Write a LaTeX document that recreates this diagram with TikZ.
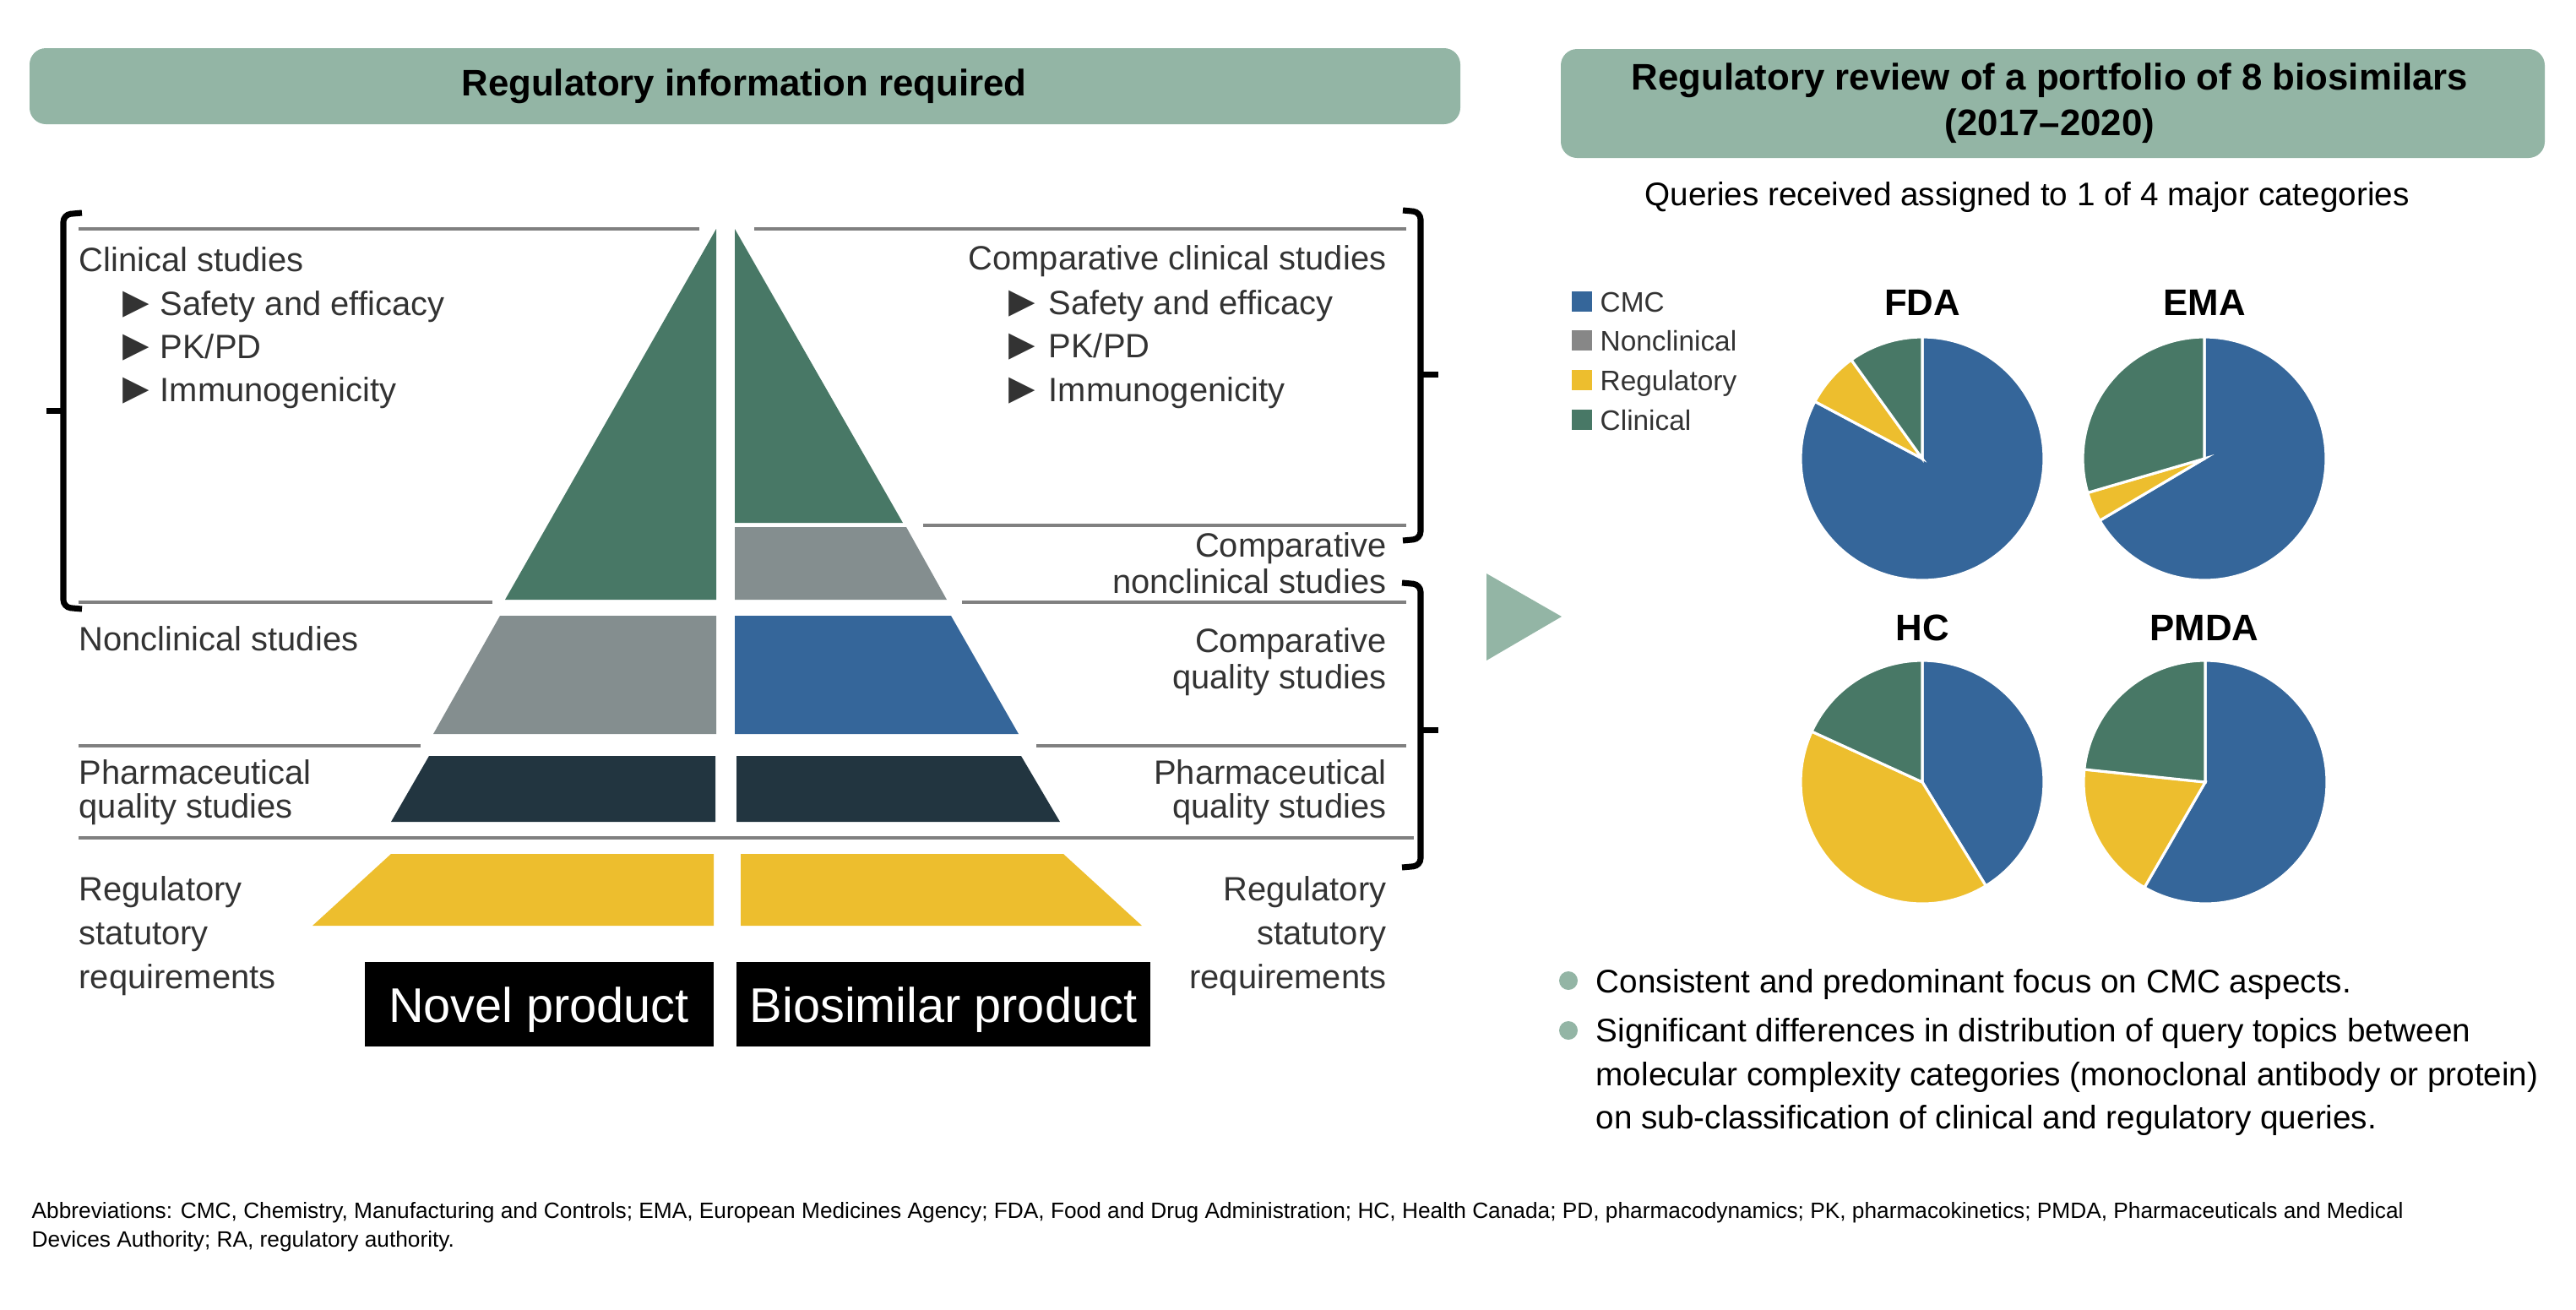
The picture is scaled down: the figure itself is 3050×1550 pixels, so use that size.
\documentclass[tikz,border=0pt]{standalone}
\usepackage{fontspec}
\setmainfont{Liberation Sans}
\definecolor{sage}{HTML}{93B5A5}
\definecolor{pgreen}{HTML}{487866}
\definecolor{pgray}{HTML}{848E8F}
\definecolor{pblue}{HTML}{35669A}
\definecolor{pdark}{HTML}{223540}
\definecolor{pyellow}{HTML}{EDBE2E}
\definecolor{lgray}{HTML}{878787}
\definecolor{sepgray}{HTML}{808080}
\definecolor{txtgray}{HTML}{333333}
\newcommand\fbody{\fontsize{11.35}{13.6}\selectfont}
\newcommand\ftri{\fontsize{14.8}{16}\selectfont}
\newcommand\fbul{\fontsize{11.0}{13.2}\selectfont}
\newcommand\fhead{\fontsize{12.45}{15}\selectfont\bfseries}
\newcommand\fleg{\fontsize{9.5}{11.4}\selectfont}
\newcommand\fbig{\fontsize{16.4}{19.7}\selectfont}
\newcommand\fabbr{\fontsize{7.47}{9}\selectfont}
\newcommand\mypie[4]{%
  \begin{scope}[shift={(#1)}, yscale=-1]
    \pgfmathsetmacro\aa{90-#2}
    \pgfmathsetmacro\bb{90-#2-#3}
    \fill[pblue, slice] (0,0) -- (90:144) arc[start angle=90, end angle=\aa, radius=144] -- cycle;
    \fill[pyellow, slice] (0,0) -- (\aa:144) arc[start angle=\aa, end angle=\bb, radius=144] -- cycle;
    \fill[pgreen, slice] (0,0) -- (\bb:144) arc[start angle=\bb, end angle=-270, radius=144] -- cycle;
  \end{scope}}
\begin{document}
\begin{tikzpicture}[x=0.01cm,y=-0.01cm,
  lbl/.style={inner sep=0pt, font=\fbody, text=txtgray},
  lblL/.style={lbl, anchor=base west},
  lblR/.style={lbl, anchor=base east},
  tri/.style={inner sep=0pt, font=\ftri, text=txtgray, anchor=base west},
  hdr/.style={inner sep=0pt, font=\fhead, text=black, anchor=base},
  sepline/.style={draw=sepgray, line width=1.4pt},
  brace/.style={draw=black, line width=2pt, rounded corners=2.5pt},
  hdrbox/.style={fill=sage, rounded corners=5.5pt},
  legtxt/.style={inner sep=0pt, font=\fleg, text=txtgray, anchor=base west},
  bultxt/.style={inner sep=0pt, font=\fbul, text=black, anchor=base west},
  slice/.style={draw=white, line width=0.9pt}]
\useasboundingbox (0,0) rectangle (3050,1550);

% ---------- headers ----------
\fill[hdrbox] (35,57) rectangle (1729,147);
\node[hdr] (h1) at (881,113) {Regulatory information required};
\fill[hdrbox] (1848,58) rectangle (3013,187);
\node[hdr] (h2a) at (2427,106) {Regulatory review of a portfolio of 8 biosimilars};
\node[hdr] (h2b) at (2427,160) {(2017–2020)};
\node[inner sep=0pt, font=\fbul, anchor=base] (q) at (2400,243) {Queries received assigned to 1 of 4 major categories};

% ---------- pyramid ----------
\fill[pgreen] (848,271) -- (848,710) -- (598,710) -- cycle;
\fill[pgreen] (870,271) -- (1069,619) -- (870,619) -- cycle;
\fill[pgray] (870,624) -- (1073,624) -- (1121,710) -- (870,710) -- cycle;
\fill[pgray] (592,729) -- (848,729) -- (848,869) -- (513,869) -- cycle;
\fill[pblue] (870,729) -- (1126,729) -- (1206,869) -- (870,869) -- cycle;
\fill[pdark] (508,895) -- (847,895) -- (847,973) -- (463,973) -- cycle;
\fill[pdark] (872,895) -- (1209,895) -- (1255,973) -- (872,973) -- cycle;
\fill[pyellow] (463,1011) -- (845,1011) -- (845,1096) -- (370,1096) -- cycle;
\fill[pyellow] (877,1011) -- (1259,1011) -- (1352,1096) -- (877,1096) -- cycle;

% separator lines
\draw[sepline] (93,271) -- (828,271);
\draw[sepline] (893,271) -- (1665,271);
\draw[sepline] (1093,622) -- (1665,622);
\draw[sepline] (93,713) -- (583,713);
\draw[sepline] (1139,713) -- (1665,713);
\draw[sepline] (93,883) -- (498,883);
\draw[sepline] (1227,883) -- (1665,883);
\draw[sepline] (93,992) -- (1674,992);

% braces
\draw[brace] (97,252) -- (75,254) -- (75,719) -- (97,721);
\draw[brace] (75,486) -- (55,486);
\draw[brace] (1661,249) -- (1682,251) -- (1682,638) -- (1661,640);
\draw[brace] (1682,443) -- (1703,443);
\draw[brace] (1660,690) -- (1682,692) -- (1682,1025) -- (1660,1027);
\draw[brace] (1682,864) -- (1703,864);

% left labels
\node[lblL] (lc) at (93,321) {Clinical studies};
\node[tri] (lt1) at (135,375) {►};
\node[lblL] (ls1) at (189,373) {Safety and efficacy};
\node[tri] (lt2) at (135,426) {►};
\node[lblL] (ls2) at (189,424) {PK/PD};
\node[tri] (lt3) at (135,477) {►};
\node[lblL] (ls3) at (189,475) {Immunogenicity};
\node[lblL] (ln) at (93,770) {Nonclinical studies};
\node[lblL] (lp1) at (93,928) {Pharmaceutical};
\node[lblL] (lp2) at (93,968) {quality studies};
\node[lblL] (lr1) at (93,1066) {Regulatory};
\node[lblL] (lr2) at (93,1118) {statutory};
\node[lblL] (lr3) at (93,1170) {requirements};

% right labels
\node[lblR] (rc) at (1642,319) {Comparative clinical studies};
\node[tri] (rt1) at (1184,374) {►};
\node[lblL] (rs1) at (1241,372) {Safety and efficacy};
\node[tri] (rt2) at (1184,425) {►};
\node[lblL] (rs2) at (1241,423) {PK/PD};
\node[tri] (rt3) at (1184,477) {►};
\node[lblL] (rs3) at (1241,475) {Immunogenicity};
\node[lblR] (rn1) at (1642,659) {Comparative};
\node[lblR] (rn2) at (1642,702) {nonclinical studies};
\node[lblR] (rq1) at (1642,772) {Comparative};
\node[lblR] (rq2) at (1642,815) {quality studies};
\node[lblR] (rp1) at (1642,928) {Pharmaceutical};
\node[lblR] (rp2) at (1642,968) {quality studies};
\node[lblR] (rr1) at (1642,1066) {Regulatory};
\node[lblR] (rr2) at (1642,1118) {statutory};
\node[lblR] (rr3) at (1642,1170) {requirements};

% product boxes
\fill[black] (432,1139) rectangle (845,1239);
\node[inner sep=0pt, font=\fbig, text=white, anchor=base] (novel) at (638,1210) {Novel product};
\fill[black] (872,1139) rectangle (1362,1239);
\node[inner sep=0pt, font=\fbig, text=white, anchor=base] (bio) at (1117,1210) {Biosimilar product};

% arrow
\fill[sage] (1760,679) -- (1760,782) -- (1849,730) -- cycle;

% legend
\fill[pblue] (1861,345) rectangle (1885,369);
\fill[lgray] (1861,391) rectangle (1885,415);
\fill[pyellow] (1861,438) rectangle (1885,462);
\fill[pgreen] (1861,485) rectangle (1885,509);
\node[legtxt] (g1) at (1894,369) {CMC};
\node[legtxt] (g2) at (1894,415) {Nonclinical};
\node[legtxt] (g3) at (1894,462) {Regulatory};
\node[legtxt] (g4) at (1894,509) {Clinical};

% pies
\mypie{2276,543}{298}{26.3}{35.7}
\mypie{2610,543}{239.4}{14.3}{106.3}
\mypie{2276,926}{148.5}{146.1}{65.4}
\mypie{2611,926}{210}{66}{84}
\node[hdr] (fda) at (2276,373) {FDA};
\node[hdr] (ema) at (2610,373) {EMA};
\node[hdr] (hc) at (2276,758) {HC};
\node[hdr] (pmda) at (2610,758) {PMDA};

% bullets
\fill[sage] (1857,1161) circle[radius=11];
\fill[sage] (1857,1220) circle[radius=11];
\node[bultxt] (b1) at (1889,1175) {Consistent and predominant focus on CMC aspects.};
\node[bultxt] (b2) at (1889,1233) {Significant differences in distribution of query topics between};
\node[bultxt] (b3) at (1889,1285) {molecular complexity categories (monoclonal antibody or protein)};
\node[bultxt] (b4) at (1889,1336) {on sub-classification of clinical and regulatory queries.};

% abbreviations
\node[inner sep=0pt, font=\fabbr, anchor=base west] (ab1) at (37,1442) {Abbreviations: CMC, Chemistry, Manufacturing and Controls; EMA, European Medicines Agency; FDA, Food and Drug Administration; HC, Health Canada; PD, pharmacodynamics; PK, pharmacokinetics; PMDA, Pharmaceuticals and Medical};
\node[inner sep=0pt, font=\fabbr, anchor=base west] (ab2) at (37,1476) {Devices Authority; RA, regulatory authority.};
\end{tikzpicture}
\end{document}
